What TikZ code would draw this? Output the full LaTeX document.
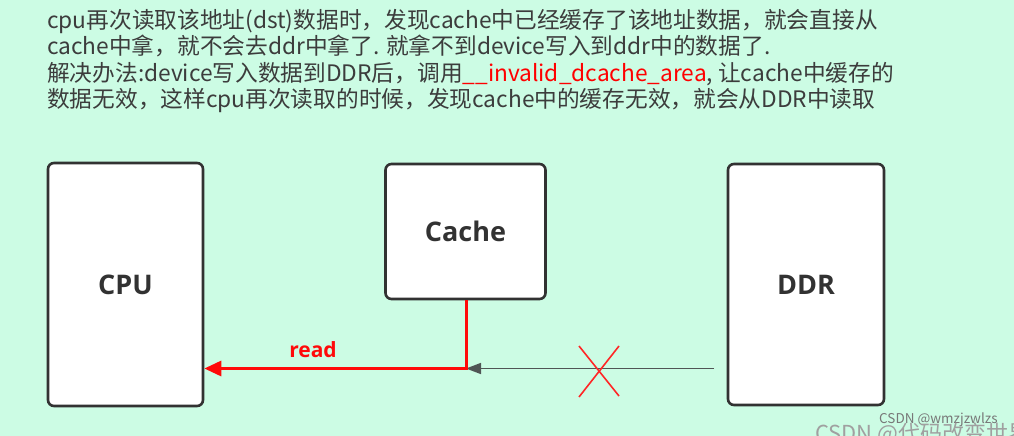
\documentclass[tikz,border=0pt]{standalone}
\usepackage{fontspec}
\setmainfont{Noto Sans CJK SC}
\newfontfamily\boxfont{Open Sans}
\usetikzlibrary{arrows.meta}
\definecolor{bgmint}{RGB}{204,252,228}
\definecolor{txtgray}{RGB}{60,60,60}
\definecolor{boxline}{RGB}{50,50,50}
\definecolor{redline}{RGB}{255,10,10}
\definecolor{grayline}{RGB}{80,85,85}
\definecolor{wmgray}{RGB}{120,120,120}
\tikzset{
  hwbox/.style={draw=boxline, line width=2.6pt, rounded corners=6pt, fill=white,
    inner sep=0pt, font=\boxfont\bfseries\fontsize{27}{30}\selectfont, text=boxline},
  headline/.style={anchor=base west, inner sep=0pt, text=txtgray, font=\fontsize{22.7}{25}\selectfont},
  redpath/.style={draw=redline, line width=3pt},
  graypath/.style={draw=grayline, line width=1.6pt},
  crossline/.style={draw=red!85!white, line width=1.6pt},
}
\begin{document}
\begin{tikzpicture}[x=1pt,y=-1pt]
\useasboundingbox[fill=bgmint] (0,0) rectangle (1014,436);
% header text
\node[headline] (l1) at (47,28.5) {cpu再次读取该地址(dst)数据时，发现cache中已经缓存了该地址数据，就会直接从};
\node[headline] (l2) at (47,54.5) {cache中拿，就不会去ddr中拿了. 就拿不到device写入到ddr中的数据了.};
\node[headline] (l3) at (47,81.5) {解决办法:device写入数据到DDR后，调用\textcolor{red}{\_\_invalid\_dcache\_area}, 让cache中缓存的};
\node[headline] (l4) at (47,107.5) {数据无效，这样cpu再次读取的时候，发现cache中的缓存无效，就会从DDR中读取};
% boxes
\node[hwbox, minimum width=155pt, minimum height=243pt] (cpu) at (125.5,284.5) {CPU};
\node[hwbox, minimum width=160pt, minimum height=135pt] (cache) at (465.5,231.5) {Cache};
\node[hwbox, minimum width=156pt, minimum height=241pt] (ddr) at (806,284.5) {DDR};
% connectors
\coordinate (j) at (466,368.5);
\coordinate (g) at (714,368.5);
\draw[graypath, -{Triangle[length=15pt,width=11pt]}] (g) -- (j);
\draw[redpath, -{Triangle[length=17pt,width=15pt]}] (cache.south -| j) -- (j) -- (cpu.east |- j);
\node[anchor=base, inner sep=0pt, text=redline, font=\boxfont\bfseries\fontsize{21}{24}\selectfont] (read) at (313,357) {read};
% cross
\coordinate (x1) at (579,346);
\coordinate (x2) at (619,396);
\coordinate (x3) at (619,346);
\coordinate (x4) at (579,397);
\draw[crossline] (x1) -- (x2);
\draw[crossline] (x3) -- (x4);
% watermarks
\node[anchor=base west, inner sep=0pt, text=wmgray, font=\fontsize{13.5}{16}\selectfont] (wm1) at (879,423) {CSDN @wmzjzwlzs};
\node[anchor=base west, inner sep=0pt, text=wmgray!70, font=\fontsize{22}{24}\selectfont] (wm2) at (815,441) {CSDN @代码改变世界ctw};
\end{tikzpicture}
\end{document}
